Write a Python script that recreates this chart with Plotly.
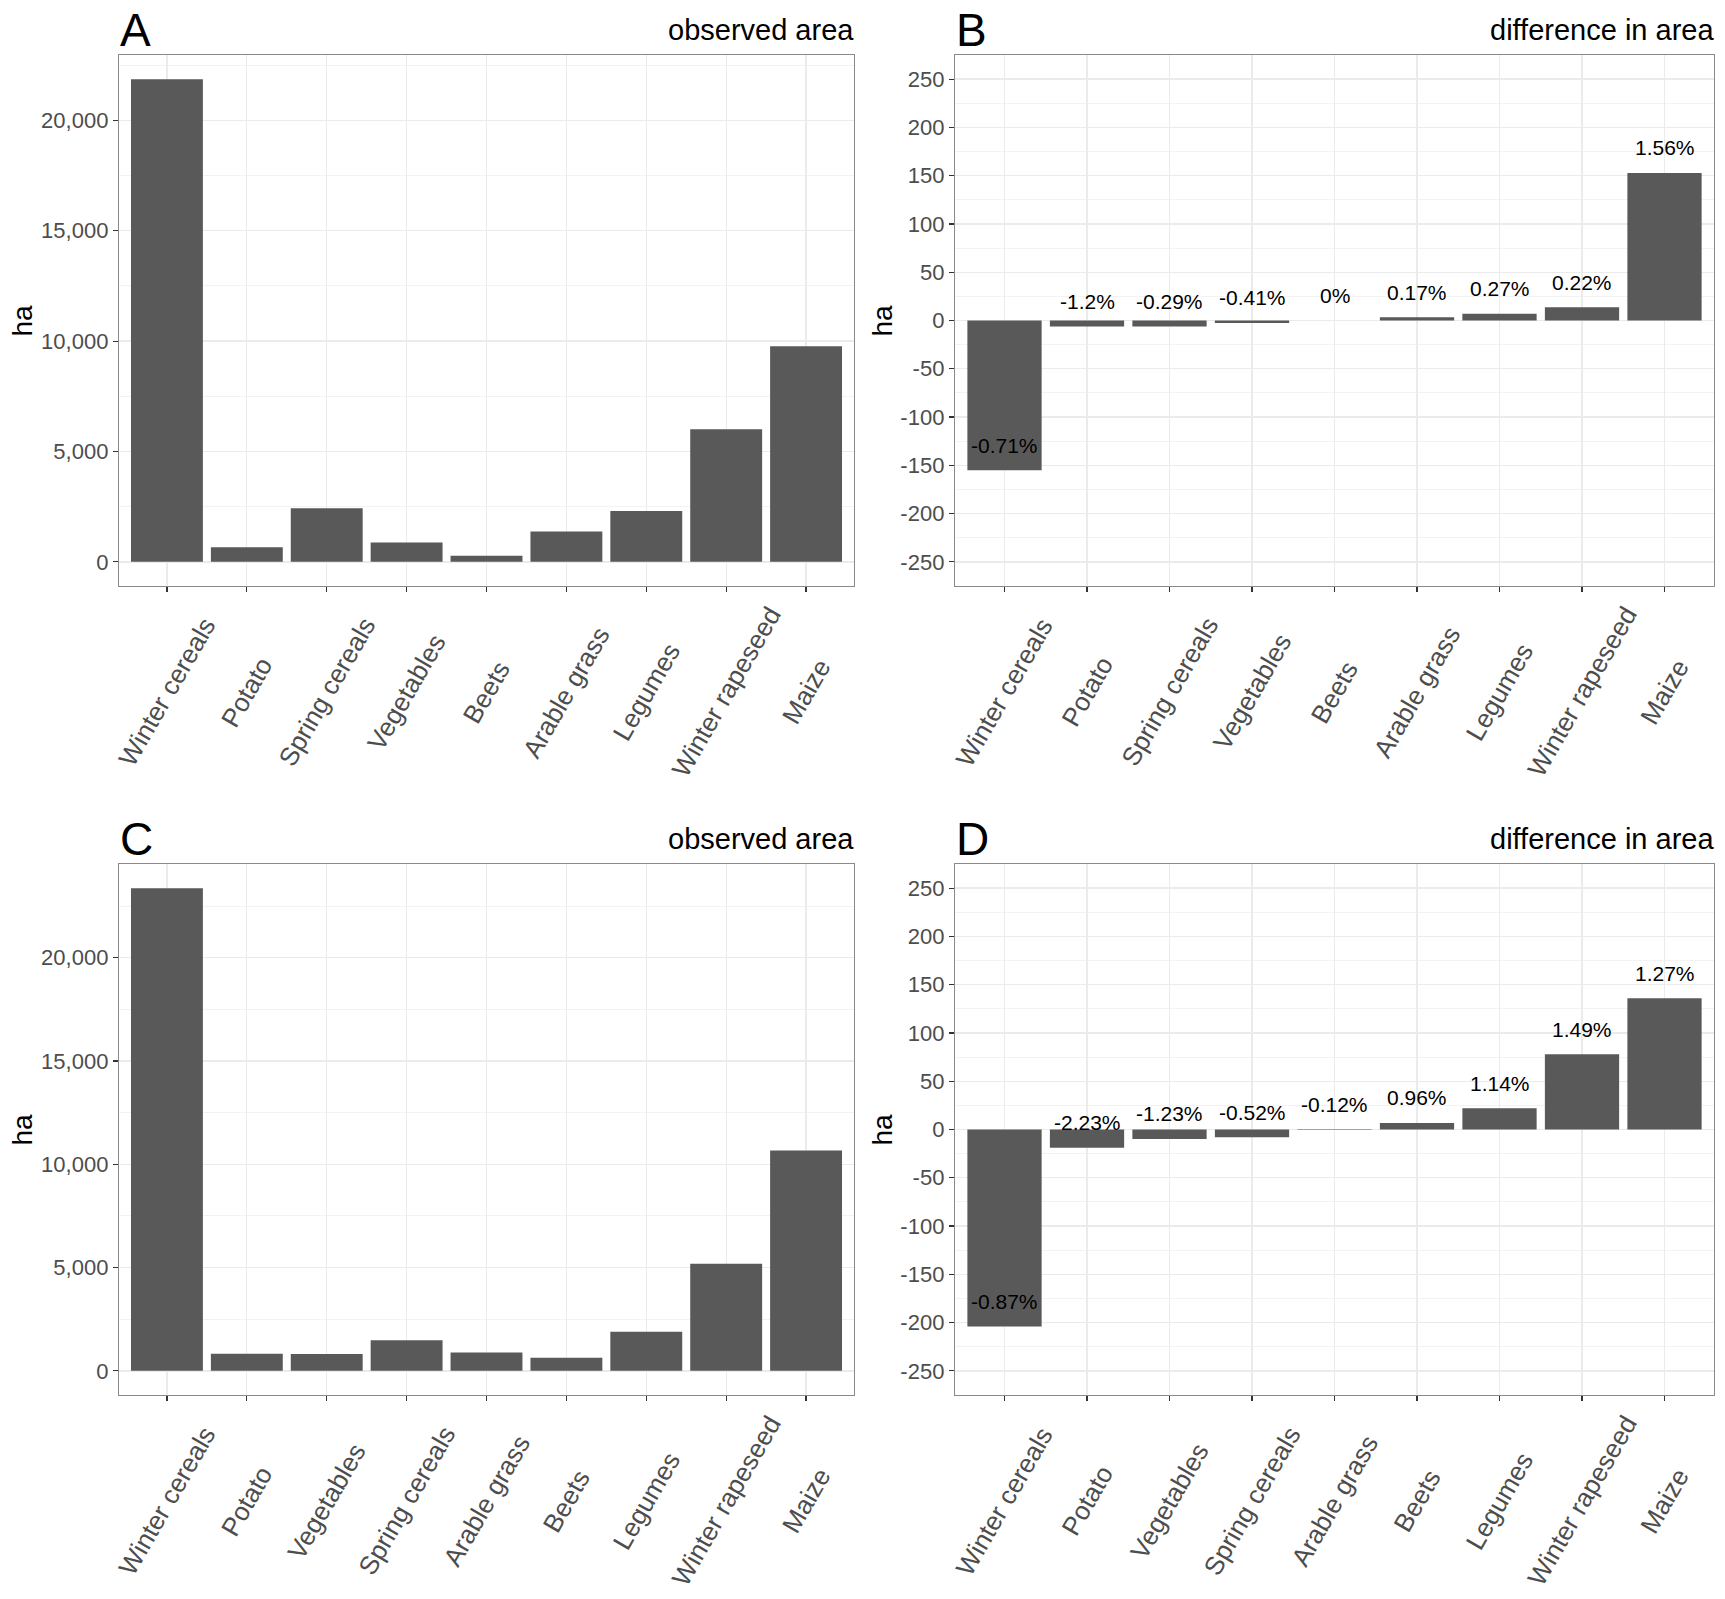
import plotly.graph_objects as go

W, H = 1725, 1599

# ---------------- data ----------------
cats_ab = ["Winter cereals", "Potato", "Spring cereals", "Vegetables", "Beets",
           "Arable grass", "Legumes", "Winter rapeseed", "Maize"]
area_a = [21870, 660, 2430, 880, 280, 1380, 2300, 6010, 9770]
diff_b = [-155, -6.3, -6.3, -2.6, 0, 3.3, 7, 13.7, 152.8]
pct_b = ["-0.71%", "-1.2%", "-0.29%", "-0.41%", "0%", "0.17%", "0.27%", "0.22%", "1.56%"]

cats_cd = ["Winter cereals", "Potato", "Vegetables", "Spring cereals", "Arable grass",
           "Beets", "Legumes", "Winter rapeseed", "Maize"]
area_c = [23370, 830, 815, 1480, 890, 630, 1890, 5185, 10670]
diff_d = [-204, -19, -9.9, -7.9, -0.6, 6.7, 22, 78, 136]
pct_d = ["-0.87%", "-2.23%", "-1.23%", "-0.52%", "-0.12%", "0.96%", "1.14%", "1.49%", "1.27%"]

panel_letters = ["A", "B", "C", "D"]
panel_titles = ["observed area", "difference in area", "observed area", "difference in area"]
area_ticks = [0, 5000, 10000, 15000, 20000]
diff_ticks = [-250, -200, -150, -100, -50, 0, 50, 100, 150, 200, 250]

# ---------------- layout helpers ----------------
BAR = "#595959"
GRID = "#EBEBEB"
BORDER = "#8a8a8a"
TICKTXT = "#4D4D4D"
FONT = "Liberation Sans, Arial, sans-serif"

def px_x(p):
    return p / W

def px_y(p):
    return 1 - p / H

left_dom = [px_x(119), px_x(854)]
right_dom = [px_x(955), px_x(1714)]
top_dom = [px_y(586), px_y(55)]
bot_dom = [px_y(1395), px_y(864)]

panels = [
    dict(cats=cats_ab, vals=area_a, xd=left_dom, yd=top_dom, kind="area", top=55, bottom=586, left=119, right=854),
    dict(cats=cats_ab, vals=diff_b, xd=right_dom, yd=top_dom, kind="diff", pct=pct_b, top=55, bottom=586, left=955, right=1714),
    dict(cats=cats_cd, vals=area_c, xd=left_dom, yd=bot_dom, kind="area", top=864, bottom=1395, left=119, right=854),
    dict(cats=cats_cd, vals=diff_d, xd=right_dom, yd=bot_dom, kind="diff", pct=pct_d, top=864, bottom=1395, left=955, right=1714),
]

fig = go.Figure()
annotations = []
layout = {}

for i, p in enumerate(panels):
    n = i + 1
    xa = "x" if n == 1 else f"x{n}"
    ya = "y" if n == 1 else f"y{n}"
    fig.add_trace(go.Bar(x=p["cats"], y=p["vals"], xaxis=xa, yaxis=ya,
                         marker=dict(color=BAR, line=dict(width=0)),
                         width=0.9, showlegend=False, hoverinfo="skip"))
    xkey = "xaxis" if n == 1 else f"xaxis{n}"
    ykey = "yaxis" if n == 1 else f"yaxis{n}"
    layout[xkey] = dict(
        domain=p["xd"], anchor=ya, type="category",
        categoryorder="array", categoryarray=p["cats"],
        range=[-0.6, len(p["cats"]) - 0.4],
        showticklabels=False, ticks="outside", ticklen=5, tickwidth=1.2, tickcolor="#333333",
        showgrid=True, gridcolor=GRID, gridwidth=1.2,
        showline=True, mirror=True, linecolor=BORDER, linewidth=1.2,
        zeroline=False, fixedrange=True,
    )
    if p["kind"] == "area":
        M = max(p["vals"])
        yr = [-0.05 * M, 1.05 * M]
        tv = area_ticks
        tt = [f"{v:,}" for v in area_ticks]
        minor_dt = 2500
    else:
        yr = [-275, 275]
        tv = diff_ticks
        tt = [str(v) for v in diff_ticks]
        minor_dt = 25
    layout[ykey] = dict(
        domain=p["yd"], anchor=xa, range=yr,
        tickmode="array", tickvals=tv, ticktext=tt,
        tickfont=dict(size=22, color=TICKTXT, family=FONT),
        ticks="outside", ticklen=5, tickwidth=1.2, tickcolor="#333333",
        showgrid=True, gridcolor=GRID, gridwidth=1.3,
        minor=dict(showgrid=True, dtick=minor_dt, tick0=0, gridcolor="#F3F3F3", gridwidth=1),
        showline=True, mirror=True, linecolor=BORDER, linewidth=1.2,
        zeroline=False, fixedrange=True,
    )

    # x category labels, rotated and centred on tick
    for c in p["cats"]:
        annotations.append(dict(
            x=c, xref=xa, y=px_y(p["bottom"] + 106), yref="paper",
            text=c, showarrow=False, textangle=-60,
            xanchor="center", yanchor="middle",
            font=dict(size=26, color=TICKTXT, family=FONT)))

    # value labels
    if p["kind"] == "diff":
        for c, v, t in zip(p["cats"], p["vals"], p["pct"]):
            annotations.append(dict(
                x=c, xref=xa, y=v + 26, yref=ya, text=t, showarrow=False,
                xanchor="center", yanchor="middle",
                font=dict(size=21, color="#000000", family=FONT)))

    # panel letter
    annotations.append(dict(
        x=px_x(p["left"] - 1), xref="paper", y=px_y(p["top"] - 25), yref="paper",
        text=panel_letters[i], showarrow=False, xanchor="left", yanchor="middle",
        font=dict(size=46, color="#000000", family=FONT)))
    # panel title
    annotations.append(dict(
        x=px_x(p["right"] + 2), xref="paper", y=px_y(p["top"] - 25), yref="paper",
        text=panel_titles[i], showarrow=False, xanchor="right", yanchor="middle",
        font=dict(size=29, color="#000000", family=FONT)))
    # y title
    yx = 22 if p["left"] < 500 else 882
    annotations.append(dict(
        x=px_x(yx), xref="paper", y=px_y((p["top"] + p["bottom"]) / 2), yref="paper",
        text="ha", showarrow=False, textangle=-90, xanchor="center", yanchor="middle",
        font=dict(size=28, color="#000000", family=FONT)))

fig.update_layout(
    width=W, height=H, autosize=False,
    margin=dict(l=0, r=0, t=0, b=0),
    paper_bgcolor="white", plot_bgcolor="white",
    bargap=0.1, annotations=annotations,
    font=dict(family=FONT),
    **layout,
)

fig.write_html("out.html",
               config={"displayModeBar": False, "staticPlot": True},
               post_script="document.body.style.margin='0';document.body.style.overflow='hidden';")
